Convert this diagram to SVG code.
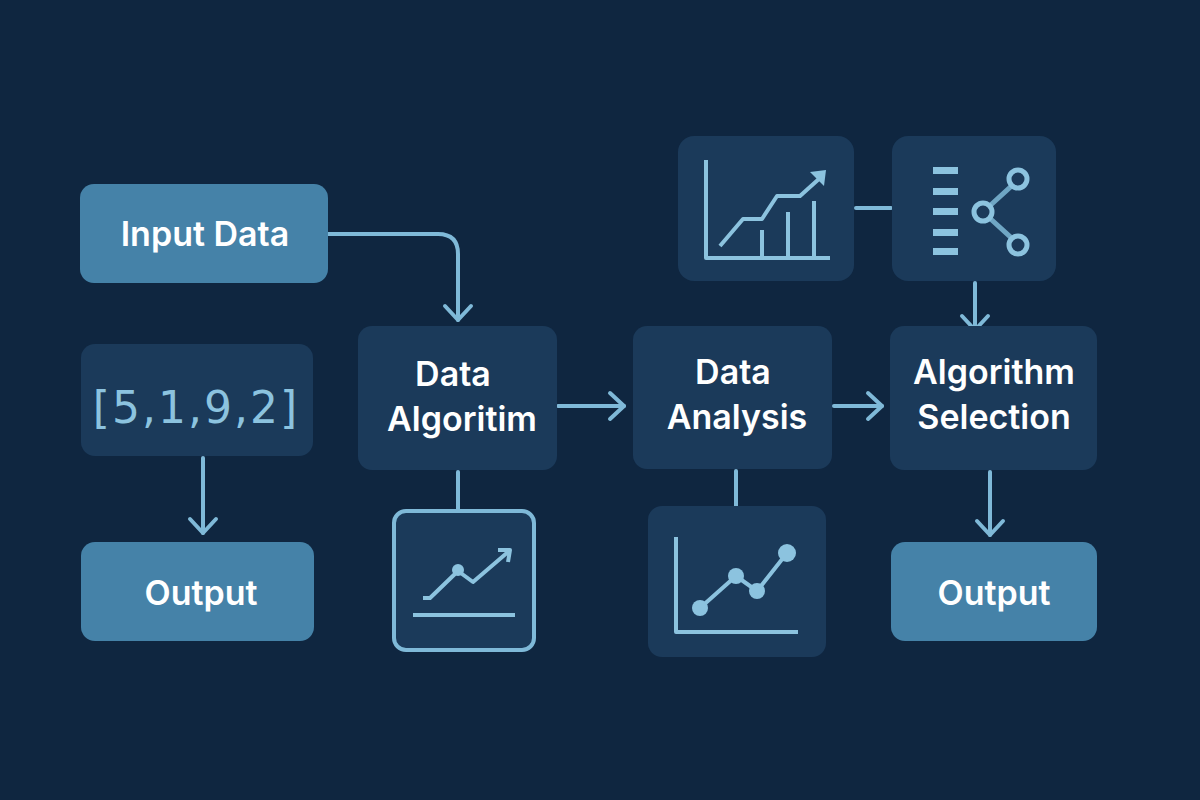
<svg xmlns="http://www.w3.org/2000/svg" width="1200" height="800" viewBox="0 0 1200 800">
<defs>
<marker id="a2" viewBox="0 0 30 30" refX="28" refY="15" markerWidth="30" markerHeight="30" markerUnits="userSpaceOnUse" orient="auto" overflow="visible">
<path d="M14,2 L28,15 L14,28" fill="none" stroke="#7fb9d8" stroke-width="4" stroke-linecap="round" stroke-linejoin="round"/>
</marker>
</defs>
<style>
.dark{fill:#1b3a5a}
.light{fill:#4582a8}
.t{font-family:"Inter","Liberation Sans",sans-serif;font-weight:600;font-size:34px;fill:#ffffff;text-anchor:middle}
.c{fill:none;stroke:#7fb9d8;stroke-width:4;stroke-linecap:round;stroke-linejoin:round}
.ic{fill:none;stroke:#8cc3df;stroke-width:4;stroke-linecap:butt;stroke-linejoin:round}
</style>
<rect width="1200" height="800" fill="#0f2640"/>
<g id="connectors">
<path class="c" d="M328,234 H438 Q458,234 458,254 V320" marker-end="url(#a2)"/>
<path class="c" d="M203,458 V533" marker-end="url(#a2)"/>
<path class="c" d="M558,406 H624" marker-end="url(#a2)"/>
<path class="c" d="M834,406 H882" marker-end="url(#a2)"/>
<path class="c" d="M975,283 V330" marker-end="url(#a2)"/>
<path class="c" d="M990,472 V535" marker-end="url(#a2)"/>
<path class="c" d="M458,472 V509"/>
<path class="c" d="M736,471 V506"/>
<path class="c" d="M856,208 H891"/>
</g>
<g id="input"><rect class="light" x="80" y="184" width="248" height="99" rx="14"/><text class="t" x="205" y="246">Input Data</text></g>
<g id="array"><rect class="dark" x="81" y="344" width="232" height="112" rx="14"/><text x="196" y="423" font-family="'DejaVu Sans','Liberation Sans',sans-serif" font-size="44" fill="#8cc3df" text-anchor="middle" letter-spacing="2">[5,1,9,2]</text></g>
<g id="output1"><rect class="light" x="81" y="542" width="233" height="99" rx="14"/><text class="t" x="201" y="605">Output</text></g>
<g id="algo"><rect class="dark" x="358" y="326" width="199" height="144" rx="14"/><text class="t" x="453" y="386">Data</text><text class="t" x="462" y="431">Algoritim</text></g>
<g id="icon1"><rect x="394" y="511" width="140" height="139" rx="12" fill="#1b3a5a" stroke="#7fb9d8" stroke-width="4"/><path class="ic" d="M423,598 H430 L458,571 L473,582 L508,552"/><path class="ic" d="M498,550 L510,550 L508,562"/><circle cx="458" cy="570" r="6" fill="#8cc3df"/><path class="ic" d="M413,615 H515"/></g>
<g id="analysis"><rect class="dark" x="633" y="326" width="199" height="143" rx="14"/><text class="t" x="733" y="384">Data</text><text class="t" x="737" y="429">Analysis</text></g>
<g id="chart2"><rect class="dark" x="648" y="506" width="178" height="151" rx="14"/><path class="ic" d="M676,537 V632 H798"/><path class="ic" d="M700,608 L736,576 L757,591 L787,553"/><g fill="#8cc3df"><circle cx="700" cy="608" r="8"/><circle cx="736" cy="576" r="8"/><circle cx="757" cy="591" r="8"/><circle cx="787" cy="553" r="9"/></g></g>
<g id="selection"><rect class="dark" x="890" y="326" width="207" height="144" rx="14"/><text class="t" x="994" y="384">Algorithm</text><text class="t" x="994" y="429">Selection</text></g>
<g id="output2"><rect class="light" x="891" y="542" width="206" height="99" rx="14"/><text class="t" x="994" y="605">Output</text></g>
<g id="chart1"><rect class="dark" x="678" y="136" width="176" height="145" rx="16"/><path class="ic" d="M706,160 V258 H830"/><path class="ic" d="M762,258 V230 M788,258 V212 M814,258 V201" stroke-width="3"/><path class="ic" d="M720,246 L743,219 L762,219 L777,196 L800,196 L820,178" stroke-width="5"/><path d="M810,172 L826,170 L824,186 Z" fill="#8cc3df"/></g>
<g id="share"><rect class="dark" x="892" y="136" width="164" height="145" rx="16"/><g fill="#8cc3df"><rect x="933" y="167" width="25" height="7"/><rect x="933" y="188" width="25" height="7"/><rect x="933" y="208" width="25" height="7"/><rect x="933" y="229" width="25" height="7"/><rect x="933" y="248" width="25" height="7"/></g><path d="M983,212 L1018,180 M983,212 L1018,244" stroke="#6fa6c4" stroke-width="5"/><g fill="#1b3a5a" stroke="#8cc3df" stroke-width="5"><circle cx="1018" cy="179" r="9"/><circle cx="983" cy="212" r="9"/><circle cx="1018" cy="245" r="9"/></g></g>
</svg>
